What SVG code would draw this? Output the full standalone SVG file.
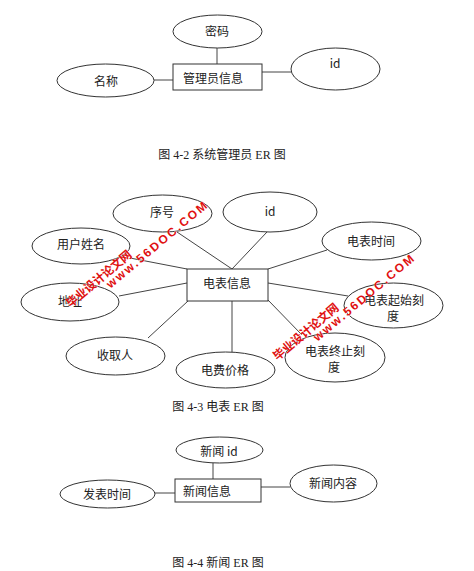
<svg xmlns="http://www.w3.org/2000/svg" width="474" height="571" viewBox="0 0 474 571">
<style>
.e{fill:#fff;stroke:#333;stroke-width:1}
.r{fill:#fff;stroke:#333;stroke-width:1}
.c line{stroke:#444;stroke-width:1}
.t{font-family:"Noto Sans CJK SC","Liberation Sans",sans-serif;font-size:12px;fill:#222;text-anchor:middle;dominant-baseline:central}
.tl{text-anchor:start}
.cap{font-family:"Liberation Serif","Noto Sans CJK SC",serif;font-size:12px;fill:#222;text-anchor:middle;dominant-baseline:central}
.wm{font-family:"Liberation Sans","Noto Sans CJK SC",sans-serif;font-weight:bold;fill:#e01010;stroke:#fff;stroke-width:0.4;paint-order:stroke}
</style>
<rect width="474" height="571" fill="#fff"/>
<g id="connectors" class="c">
<line x1="217" y1="48" x2="217" y2="64"/>
<line x1="154" y1="80" x2="173" y2="80"/>
<line x1="262" y1="72" x2="291" y2="72"/>
<line x1="177" y1="232" x2="232" y2="269"/>
<line x1="267" y1="232" x2="232" y2="269"/>
<line x1="130" y1="258" x2="187" y2="269"/>
<line x1="119" y1="296" x2="187" y2="283"/>
<line x1="148" y1="338" x2="188" y2="301"/>
<line x1="232" y1="301" x2="232" y2="352"/>
<line x1="327" y1="250" x2="268" y2="269"/>
<line x1="268" y1="283" x2="348" y2="296"/>
<line x1="268" y1="300" x2="302" y2="335"/>
<line x1="213" y1="463" x2="213" y2="479"/>
<line x1="155" y1="493" x2="175" y2="493"/>
<line x1="261" y1="487" x2="290" y2="487"/>
</g>
<g id="admin"><rect class="r" x="173" y="64" width="89" height="26"/><text class="t tl" x="183" y="77">管理员信息</text></g>
<g id="admin-pwd"><ellipse class="e" cx="217.5" cy="31.5" rx="44.5" ry="16.5"/><text class="t" x="217" y="30">密码</text></g>
<g id="admin-name"><ellipse class="e" cx="105.5" cy="80.5" rx="48.5" ry="16.5"/><text class="t" x="106" y="80">名称</text></g>
<g id="admin-id"><ellipse class="e" cx="335.5" cy="69" rx="44.5" ry="21"/><text class="t" x="335" y="62">id</text></g>
<text class="cap" x="222" y="155">图 4-2 系统管理员 ER 图</text>

<g id="meter"><rect class="r" x="187" y="269" width="81" height="32"/><text class="t" x="227" y="282">电表信息</text></g>
<g id="m-seq"><ellipse class="e" cx="162.5" cy="213.5" rx="49.5" ry="18.5"/><text class="t" x="162" y="211">序号</text></g>
<g id="m-id"><ellipse class="e" cx="270" cy="212" rx="47" ry="20"/><text class="t" x="270" y="210">id</text></g>
<g id="m-user"><ellipse class="e" cx="81" cy="246" rx="49" ry="18"/><text class="t" x="81" y="243">用户姓名</text></g>
<g id="m-addr"><ellipse class="e" cx="70" cy="302" rx="49" ry="19"/><text class="t" x="70" y="300">地址</text></g>
<g id="m-recv"><ellipse class="e" cx="115.5" cy="356" rx="49.5" ry="19"/><text class="t" x="115" y="354">收取人</text></g>
<g id="m-price"><ellipse class="e" cx="225.5" cy="370" rx="49.5" ry="18"/><text class="t" x="225" y="369">电费价格</text></g>
<g id="m-time"><ellipse class="e" cx="371.5" cy="241" rx="49.5" ry="19"/><text class="t" x="371" y="240">电表时间</text></g>
<g id="m-start"><ellipse class="e" cx="393.5" cy="305.5" rx="49.5" ry="22.5"/><text class="t" x="394" y="299">电表起始刻</text><text class="t" x="393" y="315">度</text></g>
<g id="m-end"><ellipse class="e" cx="335" cy="357.5" rx="50" ry="24.5"/><text class="t" x="335" y="350">电表终止刻</text><text class="t" x="334" y="366">度</text></g>
<text class="cap" x="218" y="407">图 4-3  电表 ER 图</text>

<g id="news"><rect class="r" x="175" y="479" width="86" height="23"/><text class="t tl" x="183" y="490">新闻信息</text></g>
<g id="n-id"><ellipse class="e" cx="219.5" cy="450" rx="43.5" ry="13"/><text class="t" x="219" y="450">新闻 id</text></g>
<g id="n-time"><ellipse class="e" cx="107.5" cy="494" rx="47.5" ry="14"/><text class="t" x="107" y="493">发表时间</text></g>
<g id="n-content"><ellipse class="e" cx="333.5" cy="483.5" rx="43.5" ry="18.5"/><text class="t" x="333" y="482">新闻内容</text></g>
<text class="cap" x="218" y="563">图 4-4  新闻 ER 图</text>

<g transform="translate(68,305) rotate(-40)">
<text class="wm" x="0" y="4" font-size="12" textLength="81" lengthAdjust="spacingAndGlyphs">毕业设计论文网</text>
<text class="wm" x="43" y="15" font-size="12" textLength="127" lengthAdjust="spacing">www.56DOC.COM</text>
</g>
<g transform="translate(275,358) rotate(-40)">
<text class="wm" x="0" y="4" font-size="12" textLength="81" lengthAdjust="spacingAndGlyphs">毕业设计论文网</text>
<text class="wm" x="43" y="15" font-size="12" textLength="127" lengthAdjust="spacing">www.56DOC.COM</text>
</g>
</svg>
